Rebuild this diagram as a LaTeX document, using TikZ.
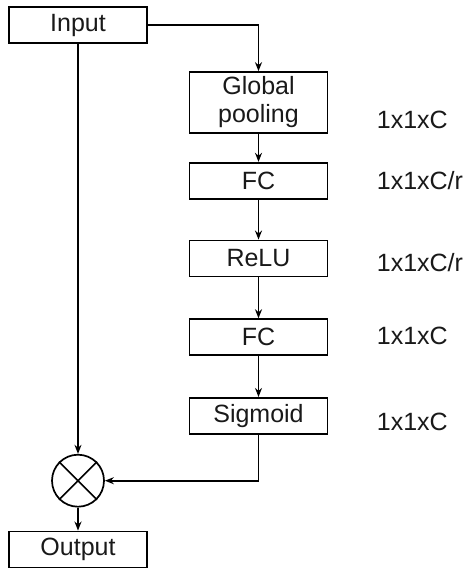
\documentclass[tikz,border=0pt]{standalone}
\usepackage{fontspec}
\setmainfont{Liberation Sans}
\usetikzlibrary{positioning,arrows.meta}

\begin{document}
\begin{tikzpicture}[x=1pt,y=1pt,->,>={Stealth[length=9pt,width=7pt]},line width=1.7pt,
    block/.style={rectangle,draw,minimum width=138pt,minimum height=36pt,inner sep=0pt,font=\fontsize{25}{28}\selectfont},
    dimtext/.style={anchor=west,inner sep=0pt,font=\fontsize{25}{28}\selectfont},
    every node/.style={text=black!90}]

    \useasboundingbox (0,0) rectangle (474,-570);

    \node[block] (input) at (78,-25) {Input};

    \node[block, minimum height=61pt, align=center] (pool) at (258.5,-102.5) {Global\\pooling};
    \node[block] (fc1) [below=28pt of pool] {FC};
    \node[block] (relu) [below=40pt of fc1] {ReLU};
    \node[block] (fc2) [below=41pt of relu] {FC};
    \node[block] (sig) [below=41pt of fc2] {Sigmoid};

    \node[circle, draw, minimum size=52pt, inner sep=0pt] (mult) [below=410pt of input] {};
    \node[block] (output) [below=23pt of mult] {Output};

    % output sizes
    \node[dimtext] (d1) at (376,-120) {1x1xC};
    \node[dimtext] (d2) at (376,-181) {1x1xC/r};
    \node[dimtext] (d3) at (376,-263) {1x1xC/r};
    \node[dimtext] (d4) at (376,-336) {1x1xC};
    \node[dimtext] (d5) at (376,-422) {1x1xC};

    \draw (input) -| (pool);
    \draw (pool) -- (fc1);
    \draw (fc1) -- (relu);
    \draw (relu) -- (fc2);
    \draw (fc2) -- (sig);
    \draw (sig) |- (mult);
    \draw (input) -- (mult);
    \draw (mult) -- (output);

    \draw[-] (mult.north west) -- (mult.south east)
             (mult.north east) -- (mult.south west);
\end{tikzpicture}
\end{document}
